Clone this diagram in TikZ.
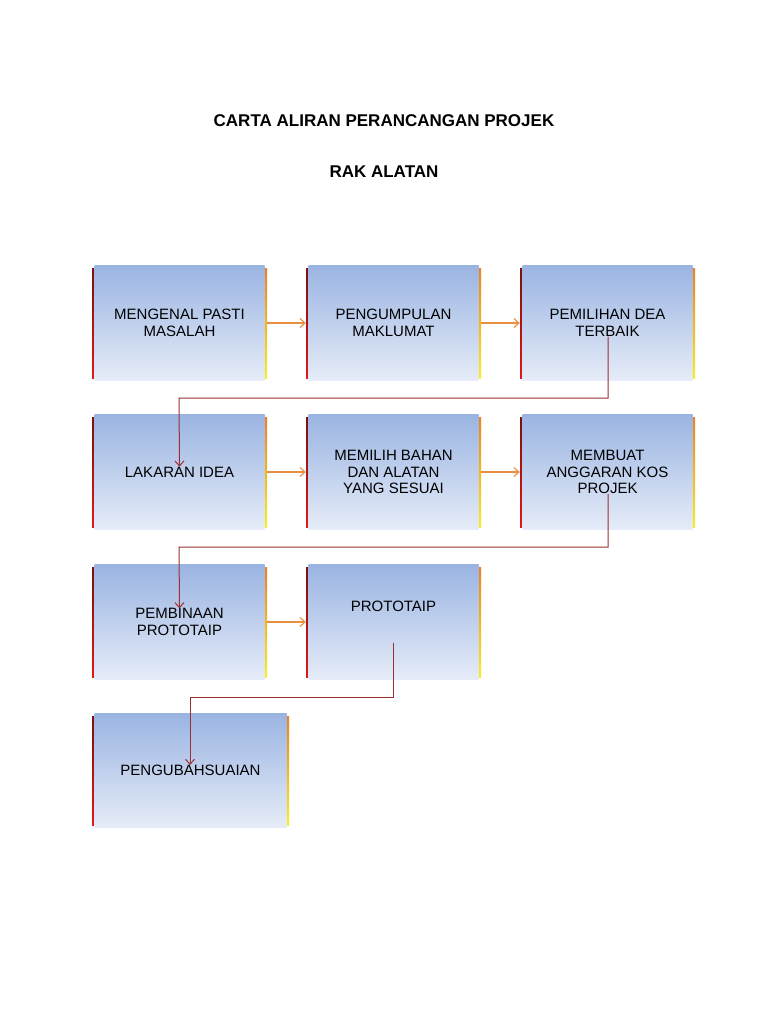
\documentclass[tikz,border=0pt]{standalone}
\usepackage{fontspec}
\setmainfont{Liberation Sans}
\usetikzlibrary{arrows.meta,shadings,calc}
\definecolor{bdark}{HTML}{7A1010}
\definecolor{bred}{HTML}{E01818}
\definecolor{borange}{HTML}{F08020}
\definecolor{byellow}{HTML}{F8F020}
\definecolor{ftop}{HTML}{9AB4E2}
\definecolor{fbot}{HTML}{E6ECF8}
\definecolor{lnk}{HTML}{E89040}
\definecolor{elb}{HTML}{9A3030}
\tikzset{
  boxtext/.style={align=center,font=\fontsize{15}{16.5}\selectfont,inner sep=0},
  hlink/.style={draw=lnk,line width=1.1pt,-{Straight Barb[length=5pt,width=9pt]}},
  elink/.style={draw=elb,line width=1pt,-{Straight Barb[length=5pt,width=9pt]}}
}
\newcommand{\bx}[6]{%
  \shade[upper left=bdark,upper right=borange,lower left=bred,lower right=byellow]
    (#2,#3) rectangle (#4,#5);
  \shade[top color=ftop,bottom color=fbot] ($(#2,#3)+(2.5,-2.5)$) rectangle ($(#4,#5)+(-2.5,2.5)$);
  \node[boxtext,minimum width={#4-#2},minimum height={#3-#5}] (#1) at ({(#2+#4)/2},{(#3+#5)/2}) {#6};
}
\begin{document}
\begin{tikzpicture}[x=1pt,y=-1pt]
\useasboundingbox[fill=white] (0,0) rectangle (768,1024);
\node[font=\bfseries\fontsize{17}{20}\selectfont] (t1) at (384,121) {CARTA ALIRAN PERANCANGAN PROJEK};
\node[font=\bfseries\fontsize{17}{20}\selectfont] (t2) at (384,172) {RAK ALATAN};
\bx{a}{92}{268}{267}{378}{MENGENAL PASTI\\MASALAH}
\bx{b}{306}{268}{481}{378}{PENGUMPULAN\\MAKLUMAT}
\bx{c}{520}{268}{695}{378}{PEMILIHAN DEA\\TERBAIK}
\bx{d}{92}{417}{267}{527}{LAKARAN IDEA}
\bx{e}{306}{417}{481}{527}{MEMILIH BAHAN\\DAN ALATAN\\YANG SESUAI}
\bx{f}{520}{417}{695}{527}{MEMBUAT\\ANGGARAN KOS\\PROJEK}
\bx{g}{92}{567}{267}{677}{PEMBINAAN\\PROTOTAIP}
\bx{h}{306}{567}{481}{677}{PROTOTAIP\\[14pt]}
\bx{i}{92}{716}{289}{825}{PENGUBAHSUAIAN}
\draw[hlink] (a.east) -- (b.west);
\draw[hlink] (b.east) -- (c.west);
\draw[hlink] (d.east) -- (e.west);
\draw[hlink] (e.east) -- (f.west);
\draw[hlink] (g.east) -- (h.west);
\draw[elink] (c.south -| 608,0) -- (608,398) -- (179,398) -- (d.north);
\draw[elink] (f.south -| 608,0) -- (608,547) -- (179,547) -- (g.north);
\draw[elink] (h.south -| 393,0) -- (393,697) -- (190,697) -- (i.north -| 190,0);
\end{tikzpicture}
\end{document}
